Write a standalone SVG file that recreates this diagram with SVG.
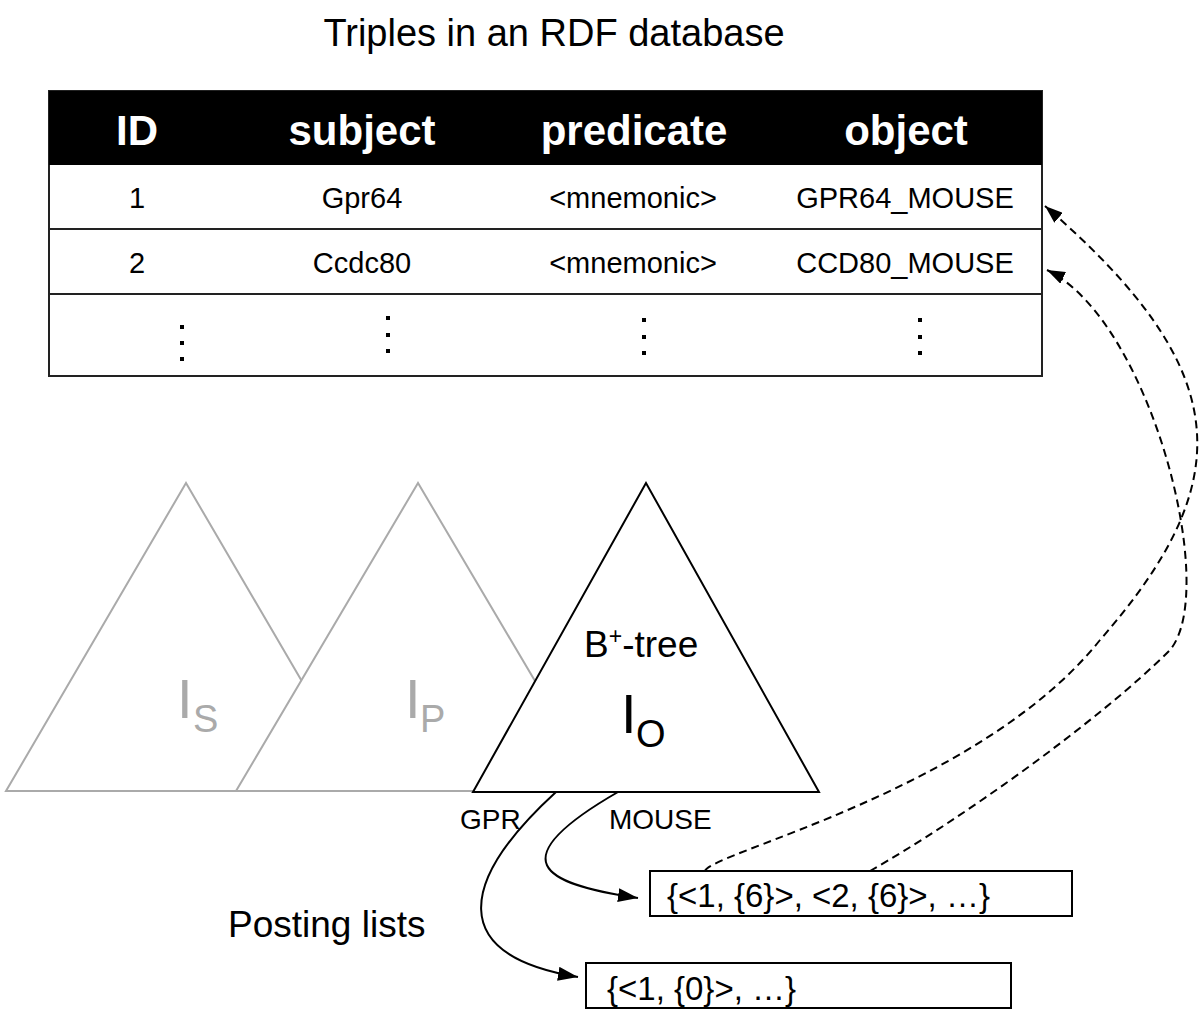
<svg xmlns="http://www.w3.org/2000/svg" width="1200" height="1016" viewBox="0 0 1200 1016">
<style>
text{font-family:"Liberation Sans",Arial,sans-serif;fill:#000}
.hdr{font-size:42px;font-weight:bold;fill:#fff;text-anchor:middle}
.cell{font-size:29px;text-anchor:middle}
.grid{stroke:#222;stroke-width:2;fill:none}
.tri-g{fill:#fff;stroke:#aaa;stroke-width:2}
.tri-k{fill:#fff;stroke:#000;stroke-width:2}
.lbl-g{fill:#aaa}
.box{fill:#fff;stroke:#000;stroke-width:2}
.solid{fill:none;stroke:#000;stroke-width:2}
.dash{fill:none;stroke:#000;stroke-width:2;stroke-dasharray:8 5}
.dot{fill:#000}
</style>
<defs>
<marker id="ah" viewBox="0 0 20 14" refX="20" refY="7" markerWidth="20" markerHeight="14" orient="auto" markerUnits="userSpaceOnUse"><path d="M0,0 L20,7 L0,14 z" fill="#000"/></marker>
<marker id="ahd" viewBox="0 0 18 13" refX="18" refY="6.5" markerWidth="18" markerHeight="13" orient="auto" markerUnits="userSpaceOnUse"><path d="M0,0 L18,6.5 L0,13 z" fill="#000"/></marker>
</defs>

<g id="title"><text x="554" y="46" font-size="38" text-anchor="middle">Triples in an RDF database</text></g>

<g id="table">
<rect x="49" y="91" width="993" height="285" fill="#fff" stroke="#222" stroke-width="2"/>
<rect x="49" y="91" width="993" height="74" fill="#000"/>
<line class="grid" x1="49" y1="229" x2="1042" y2="229"/>
<line class="grid" x1="49" y1="294" x2="1042" y2="294"/>
<text class="hdr" x="137" y="145">ID</text>
<text class="hdr" x="362" y="145">subject</text>
<text class="hdr" x="634" y="145">predicate</text>
<text class="hdr" x="906" y="145">object</text>
<text class="cell" x="137" y="208">1</text>
<text class="cell" x="362" y="208">Gpr64</text>
<text class="cell" x="633" y="208">&lt;mnemonic&gt;</text>
<text class="cell" x="905" y="208">GPR64_MOUSE</text>
<text class="cell" x="137" y="273">2</text>
<text class="cell" x="362" y="273">Ccdc80</text>
<text class="cell" x="633" y="273">&lt;mnemonic&gt;</text>
<text class="cell" x="905" y="273">CCD80_MOUSE</text>
<g class="dot">
<rect x="180" y="325" width="4" height="4"/><rect x="180" y="341" width="4" height="4"/><rect x="180" y="357" width="4" height="4"/>
<rect x="386" y="316" width="4" height="4"/><rect x="386" y="333" width="4" height="4"/><rect x="386" y="349" width="4" height="4"/>
<rect x="642" y="318" width="4" height="4"/><rect x="642" y="335" width="4" height="4"/><rect x="642" y="351" width="4" height="4"/>
<rect x="918" y="318" width="4" height="4"/><rect x="918" y="335" width="4" height="4"/><rect x="918" y="351" width="4" height="4"/>
</g>
</g>

<g id="index-s">
<polygon class="tri-g" points="186,483 6,791 366,791"/>
<text class="lbl-g" x="177" y="718" font-size="56">I</text>
<text class="lbl-g" x="193" y="732" font-size="38">S</text>
</g>
<g id="index-p">
<polygon class="tri-g" points="418,483 236,791 600,791"/>
<text class="lbl-g" x="405" y="718" font-size="56">I</text>
<text class="lbl-g" x="420" y="732" font-size="38">P</text>
</g>
<g id="index-o">
<polygon class="tri-k" points="646,483 473,792 819,792"/>
<text x="584" y="657" font-size="37">B<tspan font-size="23" dy="-13">+</tspan><tspan dy="13">-tree</tspan></text>
<text x="621" y="733" font-size="56">I</text>
<text x="636" y="747" font-size="38">O</text>
</g>

<g id="key-labels">
<text x="460" y="829" font-size="28">GPR</text>
<text x="609" y="829" font-size="28">MOUSE</text>
</g>

<g id="posting-label"><text x="228" y="937" font-size="37">Posting lists</text></g>

<g id="posting-mouse">
<rect class="box" x="650" y="871" width="422" height="45"/>
<text x="667" y="907" font-size="33">{&lt;1, {6}&gt;, &lt;2, {6}&gt;, …}</text>
</g>
<g id="posting-gpr">
<rect class="box" x="586" y="963" width="425" height="45"/>
<text x="607" y="1000" font-size="33">{&lt;1, {0}&gt;, …}</text>
</g>

<g id="connectors">
<path class="solid" d="M618,792 C500,860 540,884 638,898" marker-end="url(#ah)"/>
<path class="solid" d="M556,792 C460,880 445,955 578,977" marker-end="url(#ah)"/>
<path class="dash" d="M705,871 C712,852 980,790 1100,640 C1240,480 1235,370 1045,206" marker-end="url(#ahd)"/>
<path class="dash" d="M870,871 C960,820 1100,720 1170,650 C1220,590 1150,320 1047,270" marker-end="url(#ahd)"/>
</g>
</svg>
